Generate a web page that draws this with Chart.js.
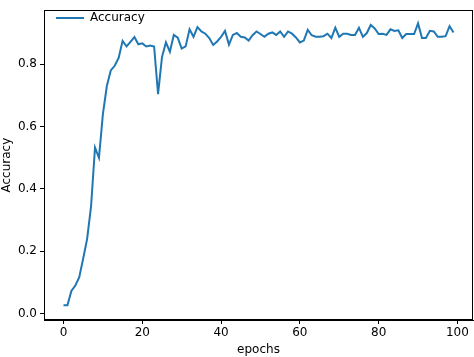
<!DOCTYPE html>
<html>
<head>
<meta charset="utf-8">
<script src="https://cdn.jsdelivr.net/npm/chart.js@4.4.1/dist/chart.umd.min.js"></script>
<style>
html,body{margin:0;padding:0;background:#fff;}
#wrap{width:474px;height:357px;position:relative;}
</style>
</head>
<body>
<div id="wrap"><canvas id="c" width="474" height="357"></canvas></div>
<script>
const epochs = [0,1,2,3,4,5,6,7,8,9,10,11,12,13,14,15,16,17,18,19,20,21,22,23,24,25,26,27,28,29,30,31,32,33,34,35,36,37,38,39,40,41,42,43,44,45,46,47,48,49,50,51,52,53,54,55,56,57,58,59,60,61,62,63,64,65,66,67,68,69,70,71,72,73,74,75,76,77,78,79,80,81,82,83,84,85,86,87,88,89,90,91,92,93,94,95,96,97,98,99];
const accuracy = [
0.027,0.027,0.073,0.090,0.117,0.177,0.240,0.345,0.533,0.500,
0.640,0.730,0.780,0.795,0.820,0.875,0.857,0.872,0.887,0.864,
0.867,0.857,0.860,0.857,0.704,0.823,0.870,0.840,0.894,0.885,
0.850,0.857,0.912,0.888,0.919,0.905,0.898,0.884,0.862,0.873,
0.888,0.907,0.863,0.894,0.900,0.888,0.886,0.876,0.893,0.905,
0.897,0.888,0.898,0.902,0.894,0.905,0.888,0.905,0.898,0.886,
0.870,0.876,0.910,0.893,0.888,0.888,0.890,0.898,0.884,0.917,
0.888,0.898,0.898,0.894,0.894,0.917,0.888,0.900,0.926,0.915,
0.897,0.898,0.894,0.912,0.907,0.909,0.884,0.897,0.897,0.897,
0.931,0.884,0.884,0.907,0.905,0.888,0.888,0.890,0.922,0.902];
const xTicks = [0,20,40,60,80,100];
const yTicks = [0.0,0.2,0.4,0.6,0.8];
const seriesName = 'Accuracy';
const xTitle = 'epochs';
const yTitle = 'Accuracy';

const FONT = 'DejaVu Sans';

const framePlugin = {
  id: 'frame',
  afterDraw(chart) {
    const a = chart.chartArea, ctx = chart.ctx;
    ctx.save();
    ctx.strokeStyle = '#000';
    ctx.lineWidth = 1;
    ctx.strokeRect(Math.round(a.left)+0.5, Math.round(a.top)+0.5, Math.round(a.right-a.left)-1, Math.round(a.bottom-a.top)-1);
    ctx.restore();
  }
};

new Chart(document.getElementById('c'), {
  type: 'line',
  data: {
    datasets: [{
      label: seriesName,
      data: epochs.map((e,i)=>({x:e, y:accuracy[i]})),
      borderColor: '#1f77b4',
      backgroundColor: '#1f77b4',
      borderWidth: 2,
      pointRadius: 0,
      tension: 0,
      fill: false
    }]
  },
  options: {
    responsive: false,
    animation: false,
    layout: { padding: { top: 2, right: 1, left: 0, bottom: 0 } },
    plugins: {
      legend: {
        position: 'chartArea',
        align: 'start',
        labels: {
          font: { family: FONT, size: 12 },
          color: '#000',
          boxWidth: 28,
          boxHeight: 0,
          padding: 12
        }
      },
      tooltip: { enabled: false }
    },
    scales: {
      x: {
        type: 'linear',
        min: -4.95, max: 103.95,
        afterBuildTicks: s => { s.ticks = xTicks.map(v=>({value:v})); },
        afterFit: s => { s.height = 37; },
        grid: { drawOnChartArea: false, drawTicks: true, tickLength: 4, color: '#000' },
        border: { display: true, color: '#000' },
        ticks: { font: { family: FONT, size: 12 }, color: '#000', padding: 2, maxRotation: 0, callback: v => String(v) },
        title: { display: true, text: xTitle, font: { family: FONT, size: 12 }, color: '#000', padding: { top: 0, bottom: 0 } }
      },
      y: {
        type: 'linear',
        min: -0.0203, max: 0.9733,
        afterBuildTicks: s => { s.ticks = yTicks.map(v=>({value:v})); },
        afterFit: s => { s.width = 44; },
        grid: { drawOnChartArea: false, drawTicks: true, tickLength: 4, color: '#000' },
        border: { display: true, color: '#000' },
        ticks: { font: { family: FONT, size: 12 }, color: '#000', padding: 3, callback: v => v.toFixed(1) },
        title: { display: true, text: yTitle, font: { family: FONT, size: 12 }, color: '#000', padding: { top: 0, bottom: 1 } }
      }
    }
  },
  plugins: [framePlugin]
});
</script>
</body>
</html>
